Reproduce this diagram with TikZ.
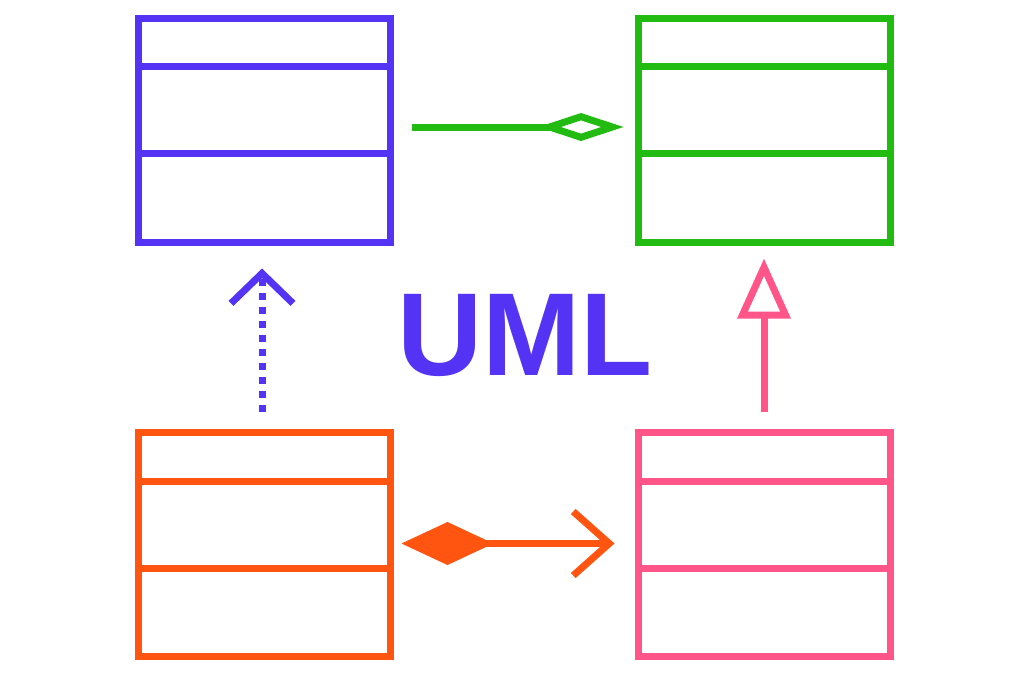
\documentclass[tikz,border=0pt]{standalone}
\usepackage{fontspec}
\setmainfont{Liberation Sans}
\usetikzlibrary{arrows.meta}
\definecolor{umlPurple}{HTML}{5533F5}
\definecolor{umlGreen}{HTML}{22BB11}
\definecolor{umlOrange}{HTML}{FF5511}
\definecolor{umlPink}{HTML}{FF5588}
\newcommand{\classBox}[4]{
	\node[classbox, draw = #2] (#1) at (#3, #4) {};
	\draw[#2, line width = 7pt] ([yshift = -52pt]#1.north west) -- ([yshift = -52pt]#1.north east);
	\draw[#2, line width = 7pt] ([yshift = -139pt]#1.north west) -- ([yshift = -139pt]#1.north east);
}
\tikzset{
	classbox/.style = {rectangle, line width = 7pt, minimum width = 252pt, minimum height = 224pt, inner sep = 0pt},
	link/.style = {line width = 7pt, line cap = butt}
}

\begin{document}
\begin{tikzpicture}[x = 1pt, y = 1pt]%
		\useasboundingbox (0, 0) rectangle (1024, -683);

		% classes
		\classBox{user}{umlPurple}{264}{-130}
		\classBox{group}{umlGreen}{764}{-130}
		\classBox{order}{umlOrange}{264}{-544.5}
		\classBox{item}{umlPink}{764}{-544.5}

		\node[text = umlPurple, font = \fontsize{118}{118}\selectfont\bfseries] (title) at (525, -335) {UML};

		% relations
		\draw[link, umlGreen, -{Diamond[open, length = 85pt, width = 28pt]}, shorten <= 18pt, shorten >= 11pt] ([yshift = 3pt]user.east) -- ([yshift = 3pt]group.west);
		\draw[link, umlPurple, dash pattern = on 7pt off 7pt, -{Straight Barb[length = 30pt, width = 62pt]}, shorten <= 17pt, shorten >= 23pt] ([xshift = -2pt]order.north) -- ([xshift = -2pt]user.south);
		\draw[link, umlPink, -{Triangle[open, length = 60pt, width = 52pt]}, shorten <= 17pt, shorten >= 13pt] (item.north) -- (group.south);
		\draw[link, umlOrange, {Diamond[length = 92pt, width = 43pt]}-{Straight Barb[length = 36pt, width = 64pt]}, shorten <= 8pt, shorten >= 20pt] ([yshift = 1pt]order.east) -- ([yshift = 1pt]item.west);
	\end{tikzpicture}
\end{document}
